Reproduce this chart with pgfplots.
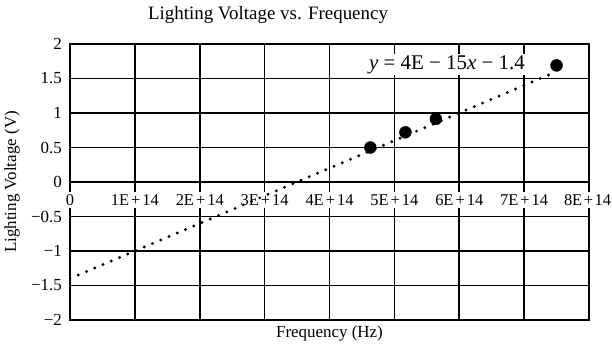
\documentclass[border=0pt]{standalone}
\usepackage{fontspec}
\setmainfont{Liberation Serif}
\usepackage{pgfplots}
\pgfplotsset{compat=1.18}
\begin{document}
\begin{tikzpicture}
\useasboundingbox (-70bp,-29bp) rectangle (542bp,320bp);
\begin{axis}[
  scale only axis, width=519bp, height=276bp,
  at={(0,0)}, anchor=south west,
  font=\fontsize{17}{20}\selectfont,
  xmin=0, xmax=8e14, ymin=-2, ymax=2,
  xtick={0,1e14,2e14,3e14,4e14,5e14,6e14,7e14,8e14},
  xticklabels={0,1E\kern2bp+\kern2bp14,2E\kern2bp+\kern2bp14,3E\kern2bp+\kern2bp14,4E\kern2bp+\kern2bp14,5E\kern2bp+\kern2bp14,6E\kern2bp+\kern2bp14,7E\kern2bp+\kern2bp14,8E\kern1.5bp+\kern1.5bp14\kern3bp},
  ytick={-2,-1.5,-1,-0.5,0,0.5,1,1.5,2},
  yticklabels={−2,−1.5,−1,−0.5,0,0.5,1,1.5,2},
  scaled x ticks=false,
  grid=major,
  major grid style={line width=1.6pt, black},
  axis line style={line width=1.6pt, black},
  major tick length=0pt,
  xticklabel style={yshift=128bp, fill=white, inner xsep=0.5bp, inner ysep=2.5bp, font=\fontsize{16.5}{20}\selectfont},
  yticklabel style={inner sep=3bp, xshift=-5bp},
  every axis title/.style={at={(axis description cs:0.3815,1)}, anchor=south, yshift=17bp, font=\fontsize{19}{22}\selectfont},
  title={Lighting Voltage vs. Frequency},
  every axis x label/.style={at={(axis description cs:0.5,0)}, anchor=north, yshift=-2bp},
  xlabel={Frequency (Hz)},
  every axis y label/.style={at={(axis description cs:-0.1118,0.5)}, rotate=90, anchor=center},
  ylabel={Lighting Voltage (V)},
]
\addplot[black, line width=3.2pt, line cap=round, dash pattern=on 0pt off 9pt] coordinates {(0,-1.4) (7.45e14,1.58)};
\addplot[only marks, mark=*, mark size=6bp, black] coordinates {(4.63e14,0.50) (5.17e14,0.72) (5.64e14,0.915) (7.5e14,1.69)};
\node[fill=white, inner sep=1.5bp, font=\fontsize{21}{24}\selectfont] at (axis cs:5.81e14,1.705) {\textit{y} = 4E − 15\textit{x} − 1.4};
\end{axis}
\end{tikzpicture}
\end{document}
